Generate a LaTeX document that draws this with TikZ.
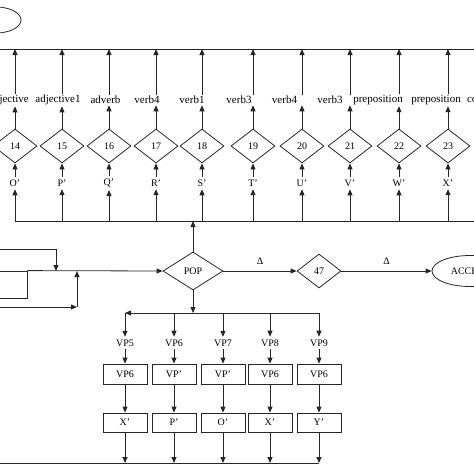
\documentclass[tikz,border=0pt]{standalone}
\usepackage{fontspec}
\setmainfont{Liberation Serif}
\usetikzlibrary{shapes.geometric,arrows.meta}
\begin{document}
\begin{tikzpicture}[x=1pt,y=-1pt, line width=0.8pt, draw=black!85,
  tip/.style={-{Triangle[length=6pt,width=5pt]}},
  dia/.style={diamond, draw, minimum width=44pt, minimum height=34pt, inner sep=0pt, font=\fontsize{10}{12}\selectfont},
  toplab/.style={font=\fontsize{11}{13}\selectfont, inner sep=1pt},
  prim/.style={font=\fontsize{10}{12}\selectfont, inner sep=2.5pt},
  vpbox/.style={draw, minimum width=44pt, minimum height=20pt, inner sep=0pt, font=\fontsize{10}{12}\selectfont},
  oval/.style={ellipse, draw, inner sep=0pt, font=\fontsize{10}{12}\selectfont}]
\useasboundingbox (0,0) rectangle (474,474);
% top
\node[oval, minimum width=50pt, minimum height=26pt] (start) at (-4,20) {};
\coordinate (topL) at (0,49);
\coordinate (topR) at (474,49);
\draw (topL) -- (topR);
\coordinate (botL) at (15,221);
\coordinate (botR) at (474,221);
\draw (botL) -- (botR);
\foreach \n/\x/\p in {14/15/O,15/62/P,16/109/Q,17/156/R,18/202/S,19/253/T,20/302/U,21/350/V,22/399/W,23/448/X}{
  \node[dia] (d\n) at (\x,146) {\n};
  \node[prim] (p\n) at (\x,183) {\p'};
}
\node[toplab] (l14) at (9,100) {adjective};
\node[toplab] (l15) at (58,100) {adjective1};
\node[toplab] (l16) at (105.5,100) {adverb};
\node[toplab] (l17) at (147,100) {verb4};
\node[toplab] (l18) at (192,100) {verb1};
\node[toplab] (l19) at (239,100) {verb3};
\node[toplab] (l20) at (284.5,100) {verb4};
\node[toplab] (l21) at (330,100) {verb3};
\node[toplab] (l22) at (378,100) {preposition};
\node[toplab] (l23) at (436,100) {preposition};
\node[toplab] (l24) at (493,100) {conjunction};
\foreach \n in {14,...,23}{
  \draw[tip] (p\n.south |- botL) -- (p\n.south);
  \draw[tip] (p\n.north) -- (d\n.south);
  \draw[tip] (d\n.north) -- (d\n.north |- l\n.south);
  \draw[tip] (d\n.north |- l\n.north) -- (d\n.north |- topL);
}
% middle
\node[dia, minimum width=60pt, minimum height=38pt] (pop) at (193,271) {POP};
\node[dia] (d47) at (319,271) {47};
\node[oval, minimum width=76pt, minimum height=31pt] (acc) at (470,271) {ACCEPT};
\draw[tip] (pop.east) -- node[above=3pt, font=\fontsize{10}{12}\selectfont]{Δ} (d47.west);
\draw[tip] (d47.east) -- node[above=3pt, font=\fontsize{10}{12}\selectfont]{Δ} (acc.west);
\node[draw, minimum width=57pt, minimum height=27pt, inner sep=0pt] (lbox) at (-1.5,284.5) {};
\draw[tip] (lbox.north east) -- (pop.west);
\coordinate (fa) at (0,249);
\coordinate (fb) at (56,249);
\coordinate (fc) at (56,271);
\draw[tip] (fa) -- (fb) -- (fc);
\coordinate (ga) at (0,307);
\coordinate (gb) at (77,307);
\coordinate (gc) at (77,271);
\draw[tip] (ga) -- (gb);
\draw[tip] (gb) -- (gc);
\coordinate (popup) at (193,221);
\draw[tip] (pop.north) -- (popup);
% bottom
\coordinate (h0) at (193,313);
\draw[tip] (pop.south) -- (h0);
\foreach \i/\x/\v/\b/\c in {1/125/VP5/VP6/X,2/174/VP6/VP'/P,3/223/VP7/VP'/O,4/270/VP8/VP6/X,5/319/VP9/VP6/Y}{
  \node[prim] (vp\i) at (\x,343) {\v};
  \node[vpbox] (bA\i) at (\x,374) {\b};
  \node[vpbox, minimum height=19pt] (bB\i) at (\x,422.5) {\c'};
  \coordinate (h\i) at (\x,313);
  \coordinate (e\i) at (\x,463);
}
\draw[tip] (h5) -- (h1);
\coordinate (bl) at (0,463);
\draw (bl) -- (e5);
\foreach \i in {1,...,5}{
  \draw[tip] (h\i) -- (vp\i.north);
  \draw[tip] (vp\i.south) -- (bA\i.north);
  \draw[tip] (bA\i.south) -- (bB\i.north);
  \draw[tip] (bB\i.south) -- (e\i);
}
\end{tikzpicture}
\end{document}
